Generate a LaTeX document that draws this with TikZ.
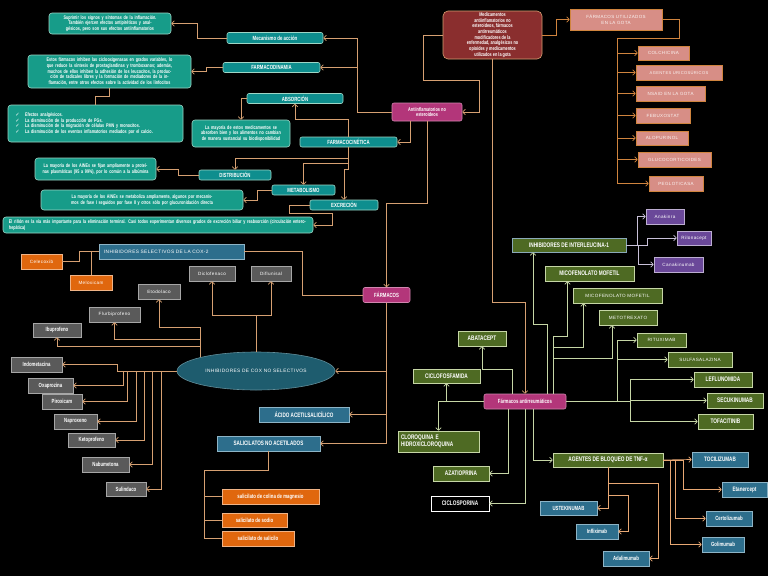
\documentclass[tikz,border=0pt]{standalone}
\usepackage{fontspec}
\setmainfont{Liberation Sans}[FakeStretch=0.72]
\newfontfamily\widefont{Liberation Sans}[LetterSpace=8]
\newfontfamily\symfont{DejaVu Sans}
\usetikzlibrary{arrows.meta,shapes.geometric}

\definecolor{tealC}{HTML}{179C89}
\definecolor{tealL}{HTML}{9ED6C6}
\definecolor{tealH}{HTML}{0E8E8E}
\definecolor{magC}{HTML}{B3367A}
\definecolor{redC}{HTML}{8A2E2E}
\definecolor{salC}{HTML}{D78E86}
\definecolor{salL}{HTML}{D0843E}
\definecolor{bluC}{HTML}{2D6E8C}
\definecolor{bluL}{HTML}{8DB4C6}
\definecolor{gryC}{HTML}{5A5A5A}
\definecolor{oraC}{HTML}{E0670E}
\definecolor{grnC}{HTML}{4E6A23}
\definecolor{grnL}{HTML}{C6D6A6}
\definecolor{purC}{HTML}{6A4899}
\definecolor{ellC}{HTML}{1E5C6E}
\definecolor{tanL}{HTML}{D6A072}
\definecolor{tnfL}{HTML}{E8A874}
\definecolor{purL}{HTML}{C8C0D8}

\tikzset{
  box/.style={draw, line width=0.6pt, inner sep=1pt, text=white, align=center,
    font=\fontsize{6}{6.4}\selectfont\bfseries},
  tbox/.style={box, fill=tealC, draw=tealL, rounded corners=3pt,
    font=\fontsize{5.2}{5.7}\selectfont\bfseries},
  hbox/.style={box, fill=tealH, draw=tealL, rounded corners=2pt},
  mbox/.style={box, fill=magC, draw=magC!60!white, rounded corners=2pt},
  pbox/.style={box, fill=salC, draw=salL, text=white!90!salC,
    font=\fontsize{4.5}{5.6}\widefont},
  bbox/.style={box, fill=bluC, draw=bluL},
  obox/.style={box, fill=oraC, draw=oraC!50!white},
  gbox/.style={box, fill=gryC, draw=gray!70!white},
  vbox/.style={box, fill=grnC, draw=grnL, font=\fontsize{6.6}{7}\selectfont\bfseries},
  wbox/.style={vbox, font=\fontsize{4.6}{5.2}\widefont},
  ubox/.style={box, fill=purC, draw=purC!45!white, font=\fontsize{4.6}{5.2}\widefont},
  con/.style={draw=tanL, line width=0.7pt},
  cong/.style={draw=salL, line width=0.7pt},
  conr/.style={draw=grnL, line width=0.7pt},
  conp/.style={draw=purL, line width=0.7pt},
  cont/.style={draw=tnfL, line width=0.7pt}
}

\begin{document}
\begin{tikzpicture}[x=1pt,y=-1pt,>={Straight Barb[length=2.5pt,width=5.5pt]}]
\useasboundingbox (0,0) rectangle (768,576);
\fill[black] (0,0) rectangle (768,576);

% top: main title and gout
\node[box, fill=redC, draw=tanL, rounded corners=5pt, minimum width=99pt, minimum height=48pt,
  font=\fontsize{5.3}{5.7}\selectfont\bfseries] (red) at (492.5,35)
  {Medicamentos\\antiinflamatorios no\\esteroideos, fármacos\\antirreumáticos\\modificadores de la\\enfermedad, analgésicos no\\opioides y medicamentos\\utilizados en la gota};
\node[pbox, minimum width=92pt, minimum height=21pt] (gout) at (616,19.5) {FÁRMACOS UTILIZADOS\\EN LA GOTA};
\node[pbox, minimum width=51pt, minimum height=14pt] (colch) at (663.5,53) {COLCHICINA};
\node[pbox, font=\fontsize{4.1}{5}\widefont, minimum width=86pt, minimum height=15pt] (uric) at (679,72.5) {AGENTES URICOSÚRICOS};
\node[pbox, minimum width=69pt, minimum height=15pt] (nsaid) at (670.5,93.5) {NSAID EN LA GOTA};
\node[pbox, minimum width=54pt, minimum height=15pt] (febux) at (663,115.5) {FEBUXOSTAT};
\node[pbox, minimum width=52pt, minimum height=14pt] (alop) at (662,138) {ALOPURINOL};
\node[pbox, minimum width=73pt, minimum height=15pt] (gluco) at (674.5,159.5) {GLUCOCORTICOIDES};
\node[pbox, minimum width=54pt, minimum height=15pt] (peg) at (676,183.5) {PEGLOTICASA};

% AINE branch
\node[mbox, minimum width=70pt, minimum height=18pt, font=\fontsize{5.4}{5.8}\selectfont\bfseries] (aine) at (427,112) {Antiinflamatorios no\\esteroideos};
\node[hbox, minimum width=96pt, minimum height=11pt] (hmec) at (275,38) {Mecanismo de acción};
\node[hbox, minimum width=97pt, minimum height=10pt] (hfd) at (271.5,67.5) {FARMACODINAMIA};
\node[hbox, minimum width=96pt, minimum height=10pt] (habs) at (295,98.5) {ABSORCIÓN};
\node[hbox, minimum width=97pt, minimum height=10pt] (hfc) at (348.5,142) {FARMACOCINÉTICA};
\node[hbox, minimum width=72pt, minimum height=10pt] (hdis) at (235,175) {DISTRIBUCIÓN};
\node[hbox, minimum width=63pt, minimum height=10pt] (hmet) at (303.5,190) {METABOLISMO};
\node[hbox, minimum width=68pt, minimum height=10pt] (hexc) at (344,205) {EXCRECIÓN};

\node[tbox, minimum width=122pt, minimum height=21pt, text width=112pt] (tmec) at (110,23.5)
  {Suprimir los signos y síntomas de la inflamación. También ejercen efectos antipiréticos y analgésicos, pero son sus efectos antiinflamatorios};
\node[tbox, minimum width=163pt, minimum height=33pt, text width=150pt] (tfd) at (109.5,71.5)
  {Estos fármacos inhiben las ciclooxigenasas en grados variables, lo que reduce la síntesis de prostaglandinas y tromboxanos; además, muchos de ellos inhiben la adhesión de los leucocitos, la producción de radicales libres y la formación de mediadores de la inflamación, entre otros efectos sobre la actividad de los linfocitos};
\node[tbox, align=left, minimum width=175pt, minimum height=37pt, text width=160pt] (tlist) at (95.5,123.5)
  {{\symfont\mdseries ✓}\quad Efectos analgésicos.\\
   {\symfont\mdseries ✓}\quad La disminución de la producción de PGs.\\
   {\symfont\mdseries ✓}\quad La disminución de la migración de células PMN y monocitos.\\
   {\symfont\mdseries ✓}\quad La disminución de los eventos inflamatorios mediados por el calcio.};
\node[tbox, minimum width=98pt, minimum height=27pt, text width=86pt] (tabs) at (241,133.5)
  {La mayoría de estos medicamentos se absorben bien y los alimentos no cambian de manera sustancial su biodisponibilidad};
\node[tbox, minimum width=121pt, minimum height=22pt, text width=108pt] (tdis) at (95.5,169)
  {La mayoría de los AINEs se fijan ampliamente a proteínas plasmáticas (95 a 99\%), por lo común a la albúmina};
\node[tbox, minimum width=202pt, minimum height=20pt, text width=186pt] (tmet) at (142,200)
  {La mayoría de los AINEs se metaboliza ampliamente, algunos por mecanismos de fase I seguidos por fase II y otros sólo por glucuronidación directa};
\node[tbox, align=left, minimum width=310pt, minimum height=16pt, text width=298pt] (texc) at (158,225)
  {El riñón es la vía más importante para la eliminación terminal. Casi todos experimentan diversos grados de excreción biliar y reabsorción (circulación enterohepática)};

% drugs
\node[mbox, minimum width=47pt, minimum height=15pt] (farm) at (386.5,295) {FÁRMACOS};
\node[bbox, align=left, minimum width=145pt, minimum height=15pt, text width=135pt,
  font=\fontsize{4.8}{5.2}\widefont] (cox2) at (171.5,251.5) {INHIBIDORES SELECTIVOS DE LA COX-2};
\node[obox, font=\fontsize{4.6}{5}\widefont, minimum width=41pt, minimum height=15pt] (celec) at (41.5,261.5) {Celecoxib};
\node[obox, font=\fontsize{4.6}{5}\widefont, minimum width=42pt, minimum height=15pt] (melox) at (91,282.5) {Meloxicam};
\node[ellipse, fill=ellC, draw=ellC!70!white, line width=0.6pt, minimum width=158pt, minimum height=38pt,
  text=white, font=\fontsize{4.8}{5.2}\widefont] (coxns) at (256,371) {INHIBIDORES DE COX NO SELECTIVOS};
\node[gbox, font=\fontsize{4.6}{5}\widefont, minimum width=42pt, minimum height=15pt] (etod) at (159,291.5) {Etodolaco};
\node[gbox, font=\fontsize{4.6}{5}\widefont, minimum width=46pt, minimum height=15pt] (diclo) at (212,273.5) {Diclofenaco};
\node[gbox, font=\fontsize{4.6}{5}\widefont, minimum width=40pt, minimum height=15pt] (diflu) at (271,273.5) {Diflunisal};
\node[gbox, font=\fontsize{4.6}{5}\widefont, minimum width=51pt, minimum height=15pt] (flurb) at (114.5,314.5) {Flurbiprofeno};
\node[gbox, minimum width=48pt, minimum height=14pt] (ibu) at (57,330) {Ibuprofeno};
\node[gbox, minimum width=51pt, minimum height=15pt] (indo) at (36.5,364.5) {Indometacina};
\node[gbox, minimum width=45pt, minimum height=15pt] (oxa) at (50.5,385.5) {Oxaprozina};
\node[gbox, minimum width=40pt, minimum height=15pt] (pirox) at (62,401.5) {Piroxicam};
\node[gbox, minimum width=43pt, minimum height=15pt] (napro) at (75.5,421.5) {Naproxeno};
\node[gbox, minimum width=47pt, minimum height=14pt] (keto) at (91.5,440) {Ketoprofeno};
\node[gbox, minimum width=47pt, minimum height=15pt] (nabu) at (105.5,464.5) {Nabumetona};
\node[gbox, minimum width=40pt, minimum height=14pt] (suli) at (126,489) {Sulindaco};
\node[bbox, minimum width=90pt, minimum height=15pt, font=\fontsize{6.4}{6.8}\selectfont\bfseries] (asa) at (304,414.5) {ÁCIDO ACETILSALICÍLICO};
\node[bbox, minimum width=103pt, minimum height=15pt, font=\fontsize{6.4}{6.8}\selectfont\bfseries] (sal) at (268.5,443.5) {SALICILATOS NO ACETILADOS};
\node[obox, minimum width=97pt, minimum height=15pt] (o1) at (270.5,496.5) {salicilato de colina de magnesio};
\node[obox, minimum width=65pt, minimum height=14pt] (o2) at (254.5,520) {salicilato de sodio};
\node[obox, minimum width=72pt, minimum height=15pt] (o3) at (258,538.5) {salicilato de salicilo};

% antirheumatic drugs
\node[mbox, minimum width=82pt, minimum height=15pt] (antir) at (525,401.5) {Fármacos antirreumáticos};
\node[vbox, draw=bluL!80!gray, minimum width=114pt, minimum height=14pt] (il1) at (569,245) {INHIBIDORES DE INTERLEUCINA-1};
\node[ubox, minimum width=38pt, minimum height=15pt] (anak) at (665,216.5) {Anakinra};
\node[ubox, minimum width=34pt, minimum height=14pt] (rilo) at (694,238) {Rilonacept};
\node[ubox, minimum width=49pt, minimum height=15pt] (cana) at (678.5,264.5) {Canakinumab};
\node[vbox, minimum width=89pt, minimum height=15pt] (mico1) at (589.5,273.5) {MICOFENOLATO MOFETIL};
\node[wbox, minimum width=89pt, minimum height=15pt] (mico2) at (617.5,295.5) {MICOFENOLATO MOFETIL};
\node[wbox, minimum width=58pt, minimum height=15pt] (metot) at (628,317.5) {METOTREXATO};
\node[wbox, minimum width=49pt, minimum height=14pt] (ritux) at (661.5,340) {RITUXIMAB};
\node[wbox, minimum width=64pt, minimum height=15pt] (sulfa) at (700,359.5) {SULFASALAZINA};
\node[vbox, minimum width=58pt, minimum height=15pt] (leflu) at (723,379.5) {LEFLUNOMIDA};
\node[vbox, minimum width=56pt, minimum height=15pt] (secuk) at (735,400.5) {SECUKINUMAB};
\node[vbox, minimum width=55pt, minimum height=15pt] (tofa) at (725.5,421.5) {TOFACITINIB};
\node[vbox, minimum width=48pt, minimum height=15pt] (abat) at (482,338.5) {ABATACEPT};
\node[vbox, minimum width=67pt, minimum height=14pt] (ciclof) at (446.5,376) {CICLOFOSFAMIDA};
\node[vbox, align=left, minimum width=81pt, minimum height=21pt, text width=75pt] (cloroq) at (438.5,441.5) {CLOROQUINA E\\HIDROXICLOROQUINA};
\node[vbox, minimum width=56pt, minimum height=15pt] (aza) at (461,473.5) {AZATIOPRINA};
\node[vbox, fill=black, draw=white, minimum width=58pt, minimum height=15pt] (cicl) at (460,503.5) {CICLOSPORINA};
\node[vbox, minimum width=110pt, minimum height=14pt] (tnf) at (608,460) {AGENTES DE BLOQUEO DE TNF-α};
\node[bbox, minimum width=56pt, minimum height=15pt, font=\fontsize{6.4}{6.8}\selectfont\bfseries] (toci) at (720,459.5) {TOCILIZUMAB};
\node[bbox, minimum width=45pt, minimum height=15pt, font=\fontsize{6.4}{6.8}\selectfont\bfseries] (etan) at (744.5,489.5) {Etanercept};
\node[bbox, minimum width=46pt, minimum height=15pt] (certo) at (729,518.5) {Certolizumab};
\node[bbox, minimum width=42pt, minimum height=15pt] (goli) at (723,544.5) {Golimumab};
\node[bbox, minimum width=57pt, minimum height=14pt] (ustek) at (568.5,508) {USTEKINUMAB};
\node[bbox, minimum width=42pt, minimum height=15pt] (infli) at (597,531.5) {Infliximab};
\node[bbox, minimum width=46pt, minimum height=15pt] (adal) at (626,558.5) {Adalimumab};

% junctions
\coordinate (jg) at (617,38);
\coordinate (ja) at (357,112);
\coordinate (js) at (204,470);

% connectors: title and gout
\draw[cong,->] (red.east) -- ++(14,0) |- (gout.west);
\draw[cong] (gout.east) -- ++(17,0) |- (jg);
\foreach \n in {colch,uric,nsaid,febux,alop,gluco,peg}
  \draw[cong,->] (jg) |- (\n.west);
\draw[con,->] (red.west) -- ++(-19,0) |- ++(56,45) |- (aine.east);
\draw[con,->] (red.south) -- ++(0,243) -| (antir.north);

% connectors: AINE
\draw[con] (aine.west) -- (ja);
\draw[con,->] (ja) |- (hmec.east);
\draw[con,->] (ja) |- (hfd.east);
\draw[con,->] (hmec.west) -- ++(-29,0) |- (tmec.east);
\draw[con,->] (hfd.west) -- ++(-16,0) |- (tfd.east);
\draw[con] (tfd.south) -- ++(0,8) -| (tlist.north);
\draw[con,->] ([xshift=-17pt]aine.south) |- (hfc.east);
\draw[con,->] (hfc.north) -- ++(0,-17) -| (habs.south);
\draw[con,->] (habs.west) -| (tabs.north);
\draw[con,->] (hfc.south) -- ++(0,11) -| (hdis.north);
\draw[con,->] (hfc.south) -- ++(0,16) -| (hmet.north);
\draw[con,->] (hfc.south) -- ++(0,22) -| (hexc.north);
\draw[con,->] (hdis.west) -- ++(-20,0) |- (tdis.east);
\draw[con,->] (hmet.west) -- ++(-14,0) |- (tmet.east);
\draw[con,->] (hexc.west) -- ++(-20,0) -- ++(0,8) -- ++(43,0) |- (texc.east);
\draw[con,->] (aine.south) -- ++(0,82) -| (farm.north);

% connectors: drugs
\draw[con] (farm.west) -- ++(-60,0) |- (cox2.east);
\draw[con] (cox2.west) -- ++(-19,0) |- (celec.east);
\draw[con] (cox2.west -| melox.north) -- (melox.north);
\draw[con,->] (farm.south) |- (coxns.east);
\draw[con,->] (farm.south) |- (asa.east);
\draw[con,->] (farm.south) |- (sal.east);
\draw[con] (sal.south) |- (js) |- (o3.west);
\draw[con] (js) |- (o1.west);
\draw[con] (js) |- (o2.west);
\draw[con,->] (coxns.north) -- ++(0,-36) -| (diclo.south);
\draw[con,->] (coxns.north) -- ++(0,-36) -| (diflu.south);
\draw[con,->] (coxns.north west) -- ++(0,-30) -| (etod.south);
\draw[con,->] (coxns.north west) -- ++(0,-18) -| (flurb.south);
\draw[con,->] (coxns.north west) -- ++(0,-11) -| (ibu.south);
\draw[con,->] (coxns.west) -- ++(-59,0) |- (indo.east);
\draw[con,->] (coxns.west) -- ++(-53,0) |- (oxa.east);
\draw[con,->] (coxns.west) -- ++(-49,0) |- (pirox.east);
\draw[con,->] (coxns.west) -- ++(-40,0) |- (napro.east);
\draw[con,->] (coxns.west) -- ++(-32,0) |- (keto.east);
\draw[con,->] (coxns.west) -- ++(-24,0) |- (nabu.east);
\draw[con,->] (coxns.west) -- ++(-15,0) |- (suli.east);

% connectors: antirheumatic drugs
\draw[conr,->] (antir.west) -| (ciclof.south);
\draw[conr,->] (antir.west) -| (cloroq.north);
\draw[conr,->] ([xshift=-13pt]antir.north) -- ++(0,-24) -| (abat.south);
\draw[conr,->] ([xshift=22pt]antir.north) -- ++(0,-69) -| ([xshift=-36pt]il1.south);
\draw[conr,->] ([xshift=28pt]antir.north) -- ++(0,-57) -| ([xshift=-22pt]mico1.south);
\draw[conr,->] ([xshift=28pt]antir.north) -- ++(0,-46) -| ([xshift=-34pt]mico2.south);
\draw[conr,->] ([xshift=28pt]antir.north) -- ++(0,-35) -| ([xshift=-16pt]metot.south);
\draw[conr,->] (antir.east) -- ++(51,0) |- (ritux.west);
\draw[conr,->] (antir.east) -- ++(51,0) |- (sulfa.west);
\draw[conr,->] (antir.east) -- ++(64,0) |- (leflu.west);
\draw[conr,->] (antir.east) -- ++(64,0) |- (secuk.west);
\draw[conr,->] (antir.east) -- ++(64,0) |- (tofa.west);
\draw[conr,->] ([xshift=-17pt]antir.south) |- (aza.east);
\draw[conr,->] (antir.south) |- (cicl.east);
\draw[conr,->] ([xshift=8pt]antir.south) |- (tnf.west);
\draw[conp,->] (il1.east) -- ++(11,0) |- (anak.west);
\draw[conp,->] (il1.east) -- ++(21,0) |- (rilo.west);
\draw[conp,->] (il1.east) -- ++(12,0) |- (cana.west);
\draw[cont,->] (tnf.east) -- (toci.west);
\draw[cont,->] (tnf.east) -- ++(20,0) |- (etan.west);
\draw[cont,->] (tnf.east) -- ++(12,0) |- (certo.west);
\draw[cont,->] (tnf.east) -- ++(7,0) |- (goli.west);
\draw[cont,->] (tnf.south) |- (ustek.east);
\draw[cont,->] (tnf.south) -- ++(0,28) -- ++(20,0) |- (infli.east);
\draw[cont,->] (tnf.south) -- ++(0,16) -- ++(50,0) |- (adal.east);
\end{tikzpicture}
\end{document}
